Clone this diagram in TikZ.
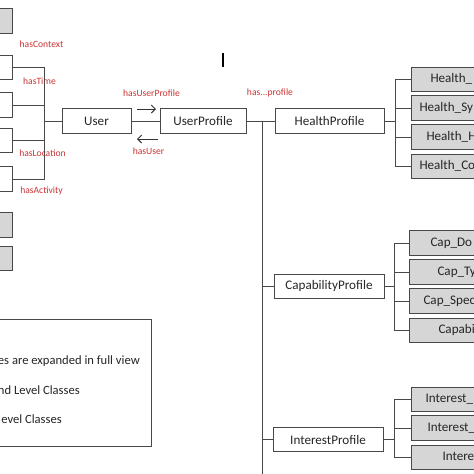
\documentclass[tikz,border=0pt]{standalone}
\usepackage{fontspec}
\setmainfont{Carlito}
\usetikzlibrary{positioning,arrows.meta}
\definecolor{linegray}{RGB}{72,72,72}
\definecolor{boxgray}{RGB}{214,214,214}
\definecolor{relred}{RGB}{204,51,51}

\begin{document}
\begin{tikzpicture}[x=1pt, y=-1pt,
        link/.style = {draw=linegray, line width=1pt},
        cls/.style = {draw=linegray, line width=1pt, fill=white, text=black!85, rectangle, inner sep=0pt, minimum height=24.5pt, font=\fontsize{13.1}{15}\selectfont},
        ctx/.style = {cls, fill=#1, anchor=east, minimum width=40pt}, ctx/.default = white,
        expanded/.style = {cls, fill=boxgray, anchor=west, text width=90pt, align=left, inner xsep=#1, text height=9pt, text depth=3pt},
        rel/.style = {text=relred, inner sep=0pt, font=\fontsize{9.6}{11}\selectfont},
        legtext/.style = {text=black!85, inner sep=0pt, anchor=east, font=\fontsize{12.6}{15}\selectfont},
        arr/.style = {draw=black!80, line width=0.9pt, -{Straight Barb[length=4pt,width=8pt]}}]
    \useasboundingbox (0,0) rectangle (474,474);
    \clip (0,0) rectangle (474,474);
    \fill[white] (0,0) rectangle (474,474);
    \node[ctx=boxgray] (c1) at (13,21) {};
    \node[ctx] (c2) at (13,67.5) {};
    \node[ctx] (c3) at (13,105) {};
    \node[ctx] (c4) at (13,140.5) {};
    \node[ctx] (c5) at (13,179) {};
    \node[ctx=boxgray] (c6) at (13,225) {};
    \node[ctx=boxgray] (c7) at (13,258.5) {};
    \node[cls, minimum width=69pt] (user) at (96.5,121) {User};
    \node[cls, minimum width=86pt] (uprof) at (203,121) {UserProfile};
    \node[cls, minimum width=109pt] (hp) at (329.5,121) {HealthProfile};
    \node[cls, minimum width=110pt] (cp) at (329,286.5) {CapabilityProfile};
    \node[cls, minimum width=110pt] (ip) at (328,439.5) {InterestProfile};
    \node[expanded=19pt] (h1) at (411,79.5) {Health\_};
    \node[expanded=8pt] (h2) at (411,108) {Health\_Sy};
    \node[expanded=15pt] (h3) at (411,137) {Health\_H};
    \node[expanded=8pt] (h4) at (411,166.5) {Health\_Co};
    \node[expanded=21pt] (k1) at (409,243) {Cap\_Do};
    \node[expanded=28pt] (k2) at (409,272) {Cap\_Ty};
    \node[expanded=14pt] (k3) at (409,301) {Cap\_Spec};
    \node[expanded=29pt] (k4) at (409,330.5) {Capabi};
    \node[expanded=14pt] (i1) at (411,399.5) {Interest\_};
    \node[expanded=16pt] (i2) at (411,428) {Interest\_};
    \node[expanded=31pt] (i3) at (411,457.5) {Intere};
    \node[rel] (lctx) at (41.5,44) {hasContext};
    \node[rel] (ltime) at (39.5,81) {hasTime};
    \node[rel] (lloc) at (42.5,153) {hasLocation};
    \node[rel] (lact) at (41.5,191) {hasActivity};
    \node[rel] (lup) at (151.5,93) {hasUserProfile};
    \node[rel] (lu) at (148.5,151) {hasUser};
    \node[rel] (lhp) at (270,93) {has...profile};
    \coordinate (jl) at (44,121);
    \draw[link] (user.west) -- (jl);
    \foreach \n in {c2,c3,c4,c5} \draw[link] (\n.east) -| (jl);
    \draw[link] (user) -- (uprof);
    \draw[link] (uprof) -- (hp);
    \coordinate (jt) at (262,121);
    \coordinate (tend) at (262,480);
    \draw[link] (jt) -- (tend);
    \draw[link] (jt) |- (cp.west);
    \draw[link] (jt) |- (ip.west);
    \coordinate (hb) at (395,121);
    \draw[link] (hp.east) -- (hb);
    \foreach \n in {h1,h2,h3,h4} \draw[link] (hb) |- (\n.west);
    \coordinate (kb) at (394,286.5);
    \draw[link] (cp.east) -- (kb);
    \foreach \n in {k1,k2,k3,k4} \draw[link] (kb) |- (\n.west);
    \coordinate (ib) at (394,439.5);
    \draw[link] (ip.east) -- (ib);
    \foreach \n in {i1,i2,i3} \draw[link] (ib) |- (\n.west);
    \coordinate (a1) at (137,109);
    \coordinate (a2) at (156,109);
    \draw[arr] (a1) -- (a2);
    \coordinate (b1) at (158,139);
    \coordinate (b2) at (137,139);
    \draw[arr] (b1) -- (b2);
    \draw[line width=2pt, black] (223,53) -- (223,67);
    \node[draw=linegray, line width=1pt, anchor=north east, minimum width=200pt, minimum height=127pt, inner sep=0pt] (legend) at (152,319) {};
    \node[legtext] (leg1) at (140,361) {es are expanded in full view};
    \node[legtext] (leg2) at (80,390) {nd Level Classes};
    \node[legtext] (leg3) at (62,419) {evel Classes};
    \end{tikzpicture}
\end{document}
